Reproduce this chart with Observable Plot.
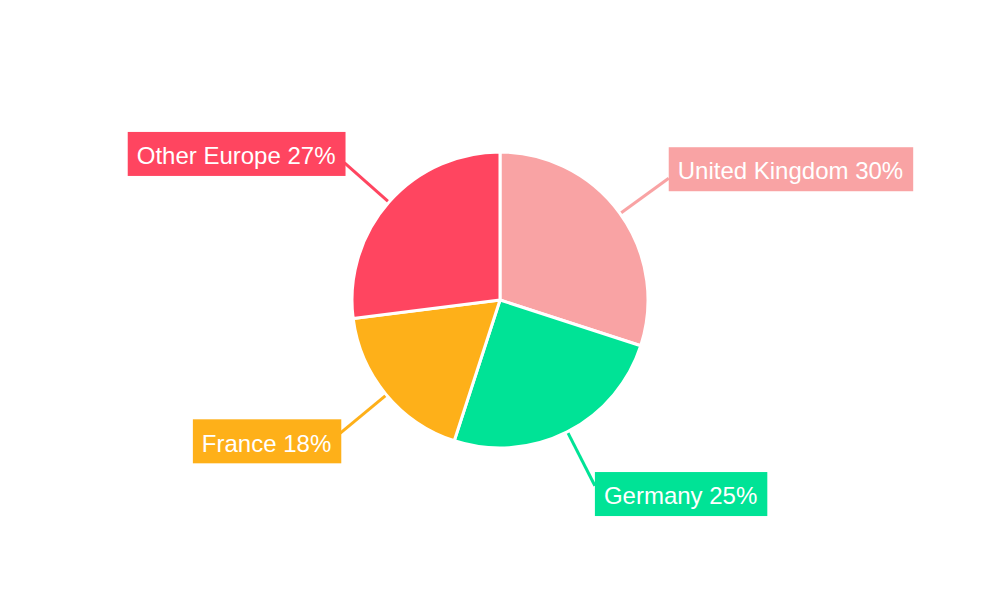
<!DOCTYPE html>
<html>
<head>
<meta charset="utf-8">
<script src="https://cdn.jsdelivr.net/npm/d3@7"></script>
<script src="https://cdn.jsdelivr.net/npm/@observablehq/plot@0.6"></script>
<style>
  html, body { margin: 0; padding: 0; background: #ffffff; }
  #chart { width: 1000px; height: 600px; }
</style>
</head>
<body>
<div id="chart"></div>
<script>
// ---- data ----
const countries = ["United Kingdom", "Germany", "France", "Other Europe"];
const shares = [30, 25, 18, 27];
const colors = ["#F9A3A4", "#00E396", "#FEB019", "#FF4560"];

// ---- derived ----
const arcs = d3.pie().sort(null).value(d => d)(shares);
const rows = countries.map((c, i) => {
  const a = (arcs[i].startAngle + arcs[i].endAngle) / 2;
  const s = Math.sin(a), k = -Math.cos(a);
  const R2 = 1.405;
  return {
    country: c,
    share: shares[i],
    color: colors[i],
    label: `${c} ${shares[i]}%`,
    right: s >= 0,
    x1: s, y1: k,
    x2: R2 * s, y2: R2 * k,
    ly: R2 * k + (k < 0 ? -0.061 : 0.056)
  };
});

const font = "'Liberation Sans', Arial, Helvetica, sans-serif";

const slices = (index, scales) => {
  const g = d3.create("svg:g");
  const cx = scales.x(0), cy = scales.y(0);
  const r = scales.x(1) - scales.x(0);
  const arc = d3.arc().innerRadius(0).outerRadius(r);
  g.attr("transform", `translate(${cx},${cy})`)
    .selectAll("path").data(arcs).join("path")
    .attr("d", arc)
    .attr("fill", (d, i) => colors[i])
    .attr("stroke", "#ffffff")
    .attr("stroke-width", 3)
    .attr("stroke-linejoin", "round");
  return g.node();
};

const chart = Plot.plot({
  width: 1000,
  height: 600,
  margin: 0,
  style: { background: "#ffffff", fontFamily: font, overflow: "visible" },
  x: { domain: [-1, 1], range: [352, 648], axis: null },
  y: { domain: [-1, 1], range: [152, 448], axis: null },
  marks: [
    Plot.link(rows, {
      x1: "x1", y1: "y1", x2: "x2", y2: "y2",
      stroke: d => d.color, strokeWidth: 3
    }),
    slices,
    Plot.text(rows.filter(d => d.right), {
      x: "x2", y: "ly", text: "label",
      textAnchor: "start", dx: 9, dy: 2.5,
      fill: "#ffffff", fontSize: 24, fontFamily: font
    }),
    Plot.text(rows.filter(d => !d.right), {
      x: "x2", y: "ly", text: "label",
      textAnchor: "end", dx: -9, dy: 2.5,
      fill: "#ffffff", fontSize: 24, fontFamily: font
    })
  ]
});

document.getElementById("chart").appendChild(chart);

// label boxes behind texts
d3.select(chart).selectAll("g[aria-label='text'] text").each(function () {
  const t = this;
  const txt = t.textContent;
  const row = rows.find(r => r.label === txt);
  const bb = t.getBBox();
  const padL = 9, padR = 10;
  const cy = bb.y + bb.height / 2 - 1.7;
  const rect = document.createElementNS("http://www.w3.org/2000/svg", "rect");
  rect.setAttribute("x", bb.x - padL);
  rect.setAttribute("y", cy - 22);
  rect.setAttribute("width", bb.width + padL + padR);
  rect.setAttribute("height", 44);
  rect.setAttribute("fill", row ? row.color : "#999");
  const tr = t.getAttribute("transform");
  if (tr) rect.setAttribute("transform", tr);
  t.parentNode.insertBefore(rect, t);
});
</script>
</body>
</html>
